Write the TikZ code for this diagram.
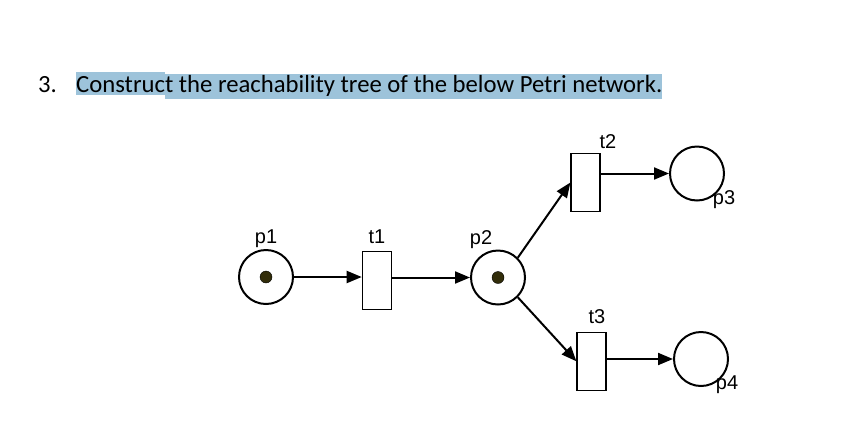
\documentclass[tikz,border=0pt]{standalone}
\usepackage{fontspec}
\setmainfont{Liberation Sans}
\newfontfamily\titlefont{Carlito}
\usetikzlibrary{arrows.meta}
\definecolor{hl}{HTML}{9DC3DA}
\begin{document}
\begin{tikzpicture}[x=1pt,y=-1pt,
  place/.style={circle,draw,line width=2pt,minimum size=54pt,inner sep=0pt},
  trans/.style={rectangle,draw,line width=1.6pt,minimum width=29pt,minimum height=58pt,inner sep=0pt},
  arc/.style={line width=2pt,-{Triangle[length=15pt,width=12pt]}},
  lbl/.style={font=\fontsize{20}{24}\selectfont,inner sep=0pt},
  tok/.style={circle,fill={rgb,255:red,50;green,45;blue,10},draw=black,minimum size=12pt,inner sep=0pt}]
\useasboundingbox (0,0) rectangle (854,432);
\fill[hl] (76,72) rectangle (165,95);
\fill[hl] (165,74) rectangle (662,99);
\node[anchor=base west,inner sep=0pt,font=\titlefont\fontsize{24.7}{28}\selectfont] (n3) at (38,92) {3.};
\node[anchor=base west,inner sep=0pt,font=\titlefont\fontsize{24.7}{28}\selectfont] (title) at (76,92) {Construct the reachability tree of the below Petri network.};
\node[place] (p1) at (266,277) {};
\node[tok] (k1) at (266,277) {};
\node[trans] (t1) at (377,280.5) {};
\node[place] (p2) at (498,277.5) {};
\node[tok] (k2) at (498,277.5) {};
\node[trans] (t2) at (585.7,182.5) {};
\node[place] (p3) at (697,173.5) {};
\node[trans] (t3) at (591.7,361.3) {};
\node[place] (p4) at (701,359) {};
\draw[arc] (p1.east) -- (t1.west |- p1.east);
\draw[arc] (t1.east |- p2.west) -- (p2.west);
\draw[arc] (p2.north east) -- (t2.west);
\draw[arc] (p2.south east) -- (t3.west);
\draw[arc] (t2.east |- p3.west) -- (p3.west);
\draw[arc] (t3.east |- p4.west) -- (p4.west);
\node[lbl] (l1) at (266,239) {p1};
\node[lbl] (l2) at (377,237) {t1};
\node[lbl] (l3) at (481,240) {p2};
\node[lbl] (l4) at (608,142) {t2};
\node[lbl] (l5) at (724,200) {p3};
\node[lbl] (l6) at (597,317) {t3};
\node[lbl] (l7) at (727,385) {p4};
\end{tikzpicture}
\end{document}
